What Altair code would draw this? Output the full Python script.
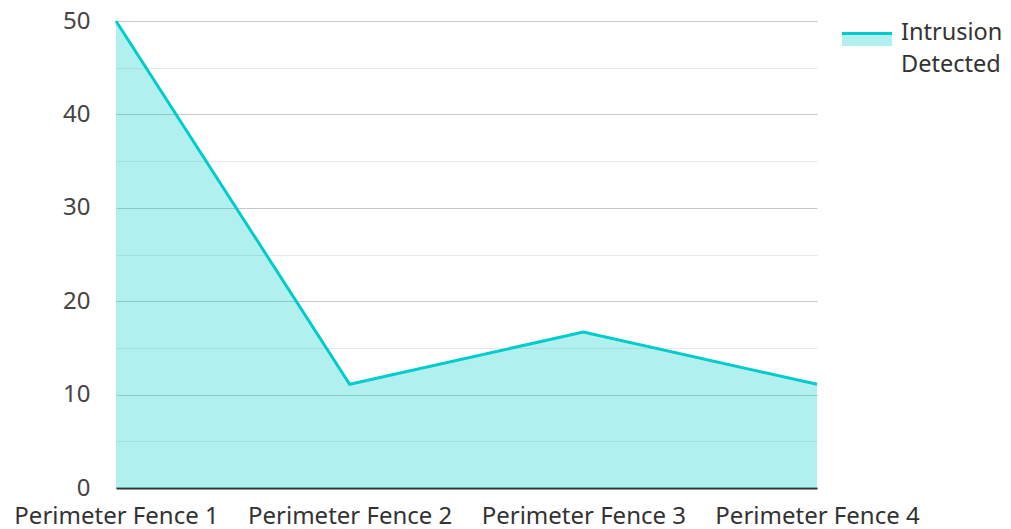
import altair as alt
import pandas as pd

categories = ["Perimeter Fence 1", "Perimeter Fence 2", "Perimeter Fence 3", "Perimeter Fence 4"]
values = [50, 11.1, 16.7, 11.1]
series_name = ["Intrusion", "Detected"]
y_ticks = [0, 5, 10, 15, 20, 25, 30, 35, 40, 45, 50]

df = pd.DataFrame({"zone": categories, "count": values})

FONT = "Noto Sans"
FS = 24
LINE = "#00CCCC"

x_enc = alt.X("zone:N", sort=categories,
              scale=alt.Scale(type="point", padding=0),
              axis=alt.Axis(title=None, labelAngle=0, labelFontSize=FS, labelFont=FONT,
                            labelColor="#333", ticks=False, domainColor="#333",
                            domainWidth=2, labelPadding=16, labelLimit=0, grid=False))
y_enc = alt.Y("count:Q", scale=alt.Scale(domain=[0, 50], nice=False),
              axis=alt.Axis(title=None, values=y_ticks, ticks=False, domain=False,
                            labelExpr="datum.value % 10 === 0 ? datum.label : ''",
                            labelFontSize=FS, labelFont=FONT, labelColor="#444",
                            labelPadding=26, minExtent=108, maxExtent=108,
                            gridColor={"condition": {"test": "datum.value % 10 === 0", "value": "#c8c8c8"},
                                       "value": "#e8e8e8"},
                            gridWidth=1))

base = alt.Chart(df).encode(x=x_enc, y=y_enc)
area = base.mark_area(color=LINE, fillOpacity=0.3)
line = base.mark_line(color=LINE, strokeWidth=3)

leg_df = pd.DataFrame({"label": series_name, "row": [0, 1]})
leg_rect = alt.Chart(leg_df).transform_filter("datum.row === 0").mark_rect(
    color=LINE, opacity=0.3).encode(
    x=alt.value(726), x2=alt.value(776), y=alt.value(14), y2=alt.value(25))
leg_line = alt.Chart(leg_df).transform_filter("datum.row === 0").mark_rule(
    color=LINE, strokeWidth=3).encode(
    x=alt.value(726), x2=alt.value(776), y=alt.value(12.5))
leg_text1 = alt.Chart(leg_df).transform_filter("datum.row === 0").mark_text(
    align="left", baseline="middle", font=FONT, fontSize=23.5, color="#333").encode(
    x=alt.value(785), y=alt.value(12), text="label:N")
leg_text2 = alt.Chart(leg_df).transform_filter("datum.row === 1").mark_text(
    align="left", baseline="middle", font=FONT, fontSize=23.5, color="#333").encode(
    x=alt.value(785), y=alt.value(44), text="label:N")

chart = alt.layer(area, line, leg_rect, leg_line, leg_text1, leg_text2).properties(
    width=701, height=467,
    padding={"left": 0, "top": 1, "right": 0, "bottom": 0},
).configure_view(stroke=None)

chart.save("out.html", embed_options={"renderer": "svg", "actions": False})
